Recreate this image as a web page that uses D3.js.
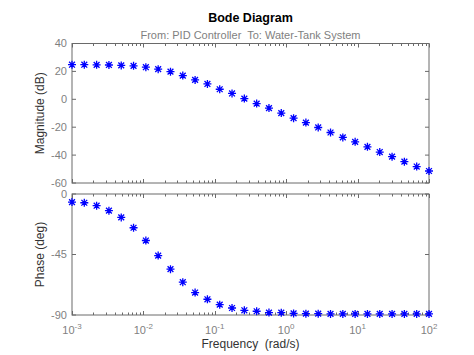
<!DOCTYPE html>
<html>
<head>
<meta charset="utf-8">
<script src="https://cdn.jsdelivr.net/npm/d3@7"></script>
<style>
html,body{margin:0;padding:0;background:#fff;}
svg{display:block;font-family:"Liberation Sans",Arial,sans-serif;}
</style>
</head>
<body>
<svg id="chart" width="474" height="355"></svg>
<script>
const freqs = [0.001, 0.001487, 0.002212, 0.003290, 0.004894, 0.007279, 0.010826, 0.016103,
  0.023950, 0.035622, 0.052983, 0.078805, 0.117210, 0.174333, 0.259294, 0.385662,
  0.573615, 0.853168, 1.268961, 1.887392, 2.807216, 4.175319, 6.210169, 9.236709,
  13.73824, 20.43360, 30.39195, 45.20354, 67.23358, 100];
const magnitude = [24.8, 24.8, 24.7, 24.6, 24.3, 24.0, 23.0, 21.6, 19.8, 17.0,
  13.9, 11.0, 7.2, 4.2, 0.5, -3.1, -6.3, -9.9, -13.5, -16.7,
  -20.2, -23.8, -27.3, -30.5, -34.1, -37.8, -41.1, -44.7, -48.2, -51.4];
const phase = [-6.0, -6.5, -8.7, -12.4, -17.4, -25.1, -34.6, -45.8, -55.9, -65.6,
  -73.3, -78.3, -82.3, -84.8, -86.5, -87.2, -88.2, -88.3, -88.8, -89.0,
  -89.0, -89.2, -89.2, -89.2, -89.2, -89.2, -89.2, -89.2, -89.2, -89.2];
const magTicks = [40, 20, 0, -20, -40, -60];
const phaseTicks = [0, -45, -90];
const freqTickExps = [-3, -2, -1, 0, 1, 2];

const svg = d3.select("#chart");
const L = 72, R = 429;
const magTop = 43.5, magBot = 183;
const phTop = 194, phBot = 315;
const axisColor = "#6a6a6a", tickLabelColor = "#7f7f7f", labelColor = "#333";

const x = d3.scaleLog().domain([1e-3, 1e2]).range([L, R]);
const yMag = d3.scaleLinear().domain([-60, 40]).range([magBot, magTop]);
const yPh = d3.scaleLinear().domain([-90, 0]).range([phBot, phTop]);

// minor ticks
const minorTicks = [];
for (let e = -3; e < 2; e++) for (let m = 2; m <= 9; m++) minorTicks.push(m * Math.pow(10, e));
const majorTicks = freqTickExps.map(e => Math.pow(10, e));

function drawAxes(y, top, bot, yticks) {
  const g = svg.append("g");
  g.append("rect").attr("x", L).attr("y", top).attr("width", R - L).attr("height", bot - top)
    .attr("fill", "#fff").attr("stroke", axisColor).attr("stroke-width", 1);
  // x ticks top and bottom
  majorTicks.forEach(v => {
    const xx = Math.round(x(v)) + 0.5;
    g.append("line").attr("x1", xx).attr("x2", xx).attr("y1", bot).attr("y2", bot - 4).attr("stroke", axisColor);
    g.append("line").attr("x1", xx).attr("x2", xx).attr("y1", top).attr("y2", top + 4).attr("stroke", axisColor);
  });
  minorTicks.forEach(v => {
    const xx = Math.round(x(v)) + 0.5;
    g.append("line").attr("x1", xx).attr("x2", xx).attr("y1", bot).attr("y2", bot - 2.5).attr("stroke", axisColor);
    g.append("line").attr("x1", xx).attr("x2", xx).attr("y1", top).attr("y2", top + 2.5).attr("stroke", axisColor);
  });
  yticks.forEach(v => {
    const yy = y(v);
    g.append("line").attr("x1", L).attr("x2", L + 4).attr("y1", yy).attr("y2", yy).attr("stroke", axisColor);
    g.append("line").attr("x1", R).attr("x2", R - 4).attr("y1", yy).attr("y2", yy).attr("stroke", axisColor);
    g.append("text").attr("x", 67).attr("y", yy).attr("dy", "0.36em")
      .attr("text-anchor", "end").attr("font-size", 11).attr("fill", tickLabelColor).text(v);
  });
  return g;
}

function asterisk(g, cx, cy) {
  const r = 4, d = 2.9;
  g.append("path")
    .attr("d", `M${cx - r},${cy}L${cx + r},${cy}M${cx},${cy - r}L${cx},${cy + r}M${cx - d},${cy - d}L${cx + d},${cy + d}M${cx - d},${cy + d}L${cx + d},${cy - d}`)
    .attr("stroke", "#0000ff").attr("stroke-width", 1.3).attr("fill", "none");
}

const gMag = drawAxes(yMag, magTop, magBot, magTicks);
const gPh = drawAxes(yPh, phTop, phBot, phaseTicks);

freqs.forEach((f, i) => asterisk(gMag, x(f), yMag(magnitude[i])));
freqs.forEach((f, i) => asterisk(gPh, x(f), yPh(phase[i])));

// x tick labels
freqTickExps.forEach(e => {
  const t = svg.append("text").attr("x", x(Math.pow(10, e))).attr("y", 334)
    .attr("text-anchor", "middle").attr("font-size", 11).attr("fill", tickLabelColor);
  t.append("tspan").text("10");
  t.append("tspan").attr("dy", -5).attr("font-size", 8).text(String(e).replace("-", "-"));
});

// titles
const cx = (L + R) / 2;
svg.append("text").attr("x", cx).attr("y", 22).attr("text-anchor", "middle")
  .attr("font-size", 12.5).attr("font-weight", "bold").attr("fill", "#000").text("Bode Diagram");
svg.append("text").attr("x", cx).attr("y", 38.5).attr("text-anchor", "middle")
  .attr("font-size", 11).attr("fill", tickLabelColor).attr("xml:space", "preserve")
  .style("white-space", "pre").text("From: PID Controller  To: Water-Tank System");
svg.append("text").attr("x", cx).attr("y", 347.5).attr("text-anchor", "middle")
  .attr("font-size", 12).attr("fill", labelColor).style("white-space", "pre")
  .text("Frequency  (rad/s)");
svg.append("text").attr("transform", `translate(44,${(magTop + magBot) / 2}) rotate(-90)`)
  .attr("text-anchor", "middle").attr("font-size", 12).attr("fill", labelColor).text("Magnitude (dB)");
svg.append("text").attr("transform", `translate(44,${(phTop + phBot) / 2}) rotate(-90)`)
  .attr("text-anchor", "middle").attr("font-size", 12).attr("fill", labelColor).text("Phase (deg)");
</script>
</body>
</html>
